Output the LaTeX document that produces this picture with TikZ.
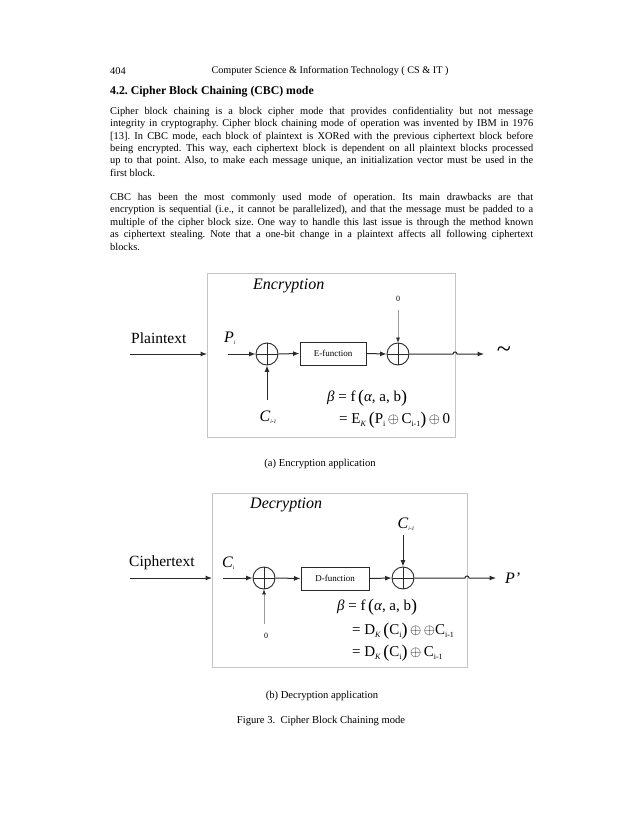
\documentclass[tikz,border=0pt]{standalone}
\usepackage{fontspec}
\setmainfont{Liberation Serif}
\usetikzlibrary{arrows.meta}
\definecolor{dgray}{HTML}{2A2A2A}
\definecolor{pgray}{HTML}{C4C4C4}
\definecolor{lgray}{HTML}{9A9A9A}
\newcommand{\sz}[1]{\fontsize{#1}{#1}\selectfont}
\newcommand{\tsub}[1]{\raisebox{-2.2pt}{\sz{5.5}\textit{#1}}}
\newcommand{\ksub}[1]{\raisebox{-2.6pt}{\sz{8}\textit{#1}}}
\newcommand{\rsub}[1]{\raisebox{-2.6pt}{\sz{8}#1}}
\newcommand{\bp}[1]{\raisebox{-0.8pt}{\sz{18}#1}}
\newcommand{\xo}{\,$\oplus$\,}
\frenchspacing
\begin{document}
\frenchspacing
\begin{tikzpicture}[x=1pt,y=-1pt,
  txt/.style={inner sep=0pt, anchor=west, text=black},
  big/.style={txt, font=\sz{15.5}},
  frm/.style={txt, font=\sz{15}},
  xorc/.style={circle, draw=dgray, line width=0.9pt, minimum size=22pt, inner sep=0pt,
    path picture={\draw[dgray, line width=0.7pt]
      (path picture bounding box.north) -- (path picture bounding box.south)
      (path picture bounding box.west) -- (path picture bounding box.east);}},
  fnbox/.style={draw=dgray, line width=1pt, minimum width=66pt, minimum height=23pt,
    inner sep=0pt, font=\sz{9}},
  panel/.style={draw=pgray, line width=0.7pt, inner sep=0pt},
  arr/.style={-{Latex[length=6.5pt,width=5pt]}, dgray, line width=1pt},
  thinarr/.style={lgray, line width=0.5pt, -{Latex[length=5pt,width=4pt,color=dgray]}},
  lnk/.style={dgray, line width=1pt}
]
\fill[white] (0,0) rectangle (638,826);
\useasboundingbox (0,0) rectangle (638,826);

% ---------- page text ----------
\node[txt, font=\sz{10.4}] (pnum) at (110,71) {404};
\node[inner sep=0pt, font=\sz{10.2}] (hdr) at (330,71) {Computer Science \& Information Technology ( CS \& IT )};
\node[txt, font=\bfseries\sz{11.8}] (sec) at (110,92) {4.2. Cipher Block Chaining (CBC) mode};
\node[inner sep=0pt, anchor=north west, align=left, font=\fontsize{10.4}{12.3}\selectfont] (para1) at (110,107) {%
\makebox[423pt][s]{Cipher block chaining is a block cipher mode that provides confidentiality but not message}\\
\makebox[423pt][s]{integrity in cryptography. Cipher block chaining mode of operation was invented by IBM in 1976}\\
\makebox[423pt][s]{[13]. In CBC mode, each block of plaintext is XORed with the previous ciphertext block before}\\
\makebox[423pt][s]{being encrypted. This way, each ciphertext block is dependent on all plaintext blocks processed}\\
\makebox[423pt][s]{up to that point. Also, to make each message unique, an initialization vector must be used in the}\\
first block.};
\node[inner sep=0pt, anchor=north west, align=left, font=\fontsize{10.4}{12.4}\selectfont] (para2) at (110,193) {%
\makebox[423pt][s]{CBC has been the most commonly used mode of operation. Its main drawbacks are that}\\
\makebox[423pt][s]{encryption is sequential (i.e., it cannot be parallelized), and that the message must be padded to a}\\
\makebox[423pt][s]{multiple of the cipher block size. One way to handle this last issue is through the method known}\\
\makebox[423pt][s]{as ciphertext stealing. Note that a one-bit change in a plaintext affects all following ciphertext}\\
blocks.};

% ---------- (a) Encryption ----------
\node[panel, anchor=north west, minimum width=248pt, minimum height=164pt] (encbox) at (207,273) {};
\node[txt, font=\itshape\sz{16}] (enct) at (253,286) {Encryption};
\node[big] (plain) at (131,338) {Plaintext};
\node[txt, font=\itshape\sz{16}] (pi) at (224,338) {P\tsub{i}};
\node[xorc] (ex1) at (267,354) {};
\node[fnbox] (ef) at (333,353.5) {E-function};
\node[xorc] (ex2) at (398,354) {};
\node[inner sep=0pt, font=\sz{8}] (ezero) at (398,299) {0};
\node[inner sep=0pt, font=\itshape\sz{16}] (eci) at (268,417) {C\tsub{i-1}};
\node[inner sep=0pt, font=\sz{26}] (etil) at (504,352) {\textasciitilde};
\node[frm] (ef1) at (327,398) {\textit{β} = f\,\bp{(}\textit{α}, a, b\bp{)}};
\node[frm] (ef2) at (339,420) {= E\ksub{K}\,\bp{(}P\rsub{i}\xo C\rsub{i-1}\bp{)}\xo 0};

\coordinate (ein0) at (130,354);
\coordinate (ein1) at (207,354);
\coordinate (ein2) at (228,354);
\coordinate (ecs) at (267,400);
\coordinate (ez) at (398,310);
\coordinate (eh1) at (453,354);
\coordinate (eh2) at (457,354);
\coordinate (eout) at (484,354);

\draw[arr] (ein0) -- (ein1);
\draw[arr] (ein2) -- (ex1.west);
\draw[arr] (ex1.east) -- (ef.west);
\draw[arr] (ef.east) -- (ex2.west);
\draw[arr] (ecs) -- (ex1.south);
\draw[thinarr] (ez) -- (ex2.north);
\draw[arr] (ex2.east) -- (eh1) .. controls ([yshift=2.7pt]eh1) and ([yshift=2.7pt]eh2) .. (eh2) -- (eout);

\node[inner sep=0pt, font=\sz{10.6}] (capa) at (320,464) {(a) Encryption application};

% ---------- (b) Decryption ----------
\node[panel, anchor=north west, minimum width=255pt, minimum height=174pt] (decbox) at (212,493) {};
\node[txt, font=\itshape\sz{16}] (dect) at (250,505) {Decryption};
\node[big] (ciph) at (129,563) {Ciphertext};
\node[txt, font=\itshape\sz{16}] (ci) at (222,563) {C\tsub{i}};
\node[xorc] (dx1) at (264,578) {};
\node[fnbox, minimum width=68pt] (df) at (335,578.5) {D-function};
\node[xorc] (dx2) at (403,578) {};
\node[inner sep=0pt, font=\itshape\sz{16}] (dci) at (406,524) {C\tsub{i-1}};
\node[inner sep=0pt, font=\sz{8}] (dzero) at (266,636) {0};
\node[txt, font=\itshape\sz{16}] (pp) at (505,578) {P’};
\node[frm] (df1) at (337,607) {\textit{β} = f\,\bp{(}\textit{α}, a, b\bp{)}};
\node[frm] (df2) at (352,631) {= D\ksub{K}\,\bp{(}C\rsub{i}\bp{)}\xo$\oplus$C\rsub{i-1}};
\node[frm] (df3) at (352,653) {= D\ksub{K}\,\bp{(}C\rsub{i}\bp{)}\xo C\rsub{i-1}};

\coordinate (din0) at (130,578);
\coordinate (din1) at (212,578);
\coordinate (din2) at (223,578);
\coordinate (dz) at (264,624);
\coordinate (dcs) at (403,535);
\coordinate (dh1) at (465,578);
\coordinate (dh2) at (469,578);
\coordinate (dout) at (496,578);

\draw[arr] (din0) -- (din1);
\draw[arr] (din2) -- (dx1.west);
\draw[arr] (dx1.east) -- (df.west);
\draw[arr] (df.east) -- (dx2.west);
\draw[thinarr] (dz) -- (dx1.south);
\draw[arr] (dcs) -- (dx2.north);
\draw[arr] (dx2.east) -- (dh1) .. controls ([yshift=2.7pt]dh1) and ([yshift=2.7pt]dh2) .. (dh2) -- (dout);

\node[inner sep=0pt, font=\sz{10.6}] (capb) at (322,696) {(b) Decryption application};
\node[inner sep=0pt, font=\sz{10.6}] (fig) at (321,721) {Figure 3.\ \ Cipher Block Chaining mode};
\end{tikzpicture}
\end{document}
